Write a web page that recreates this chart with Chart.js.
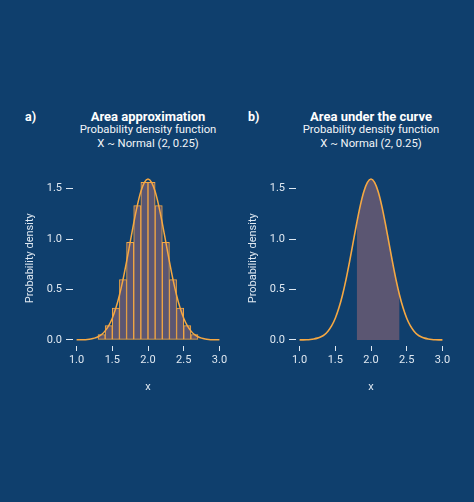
<!DOCTYPE html>
<html>
<head>
<meta charset="utf-8">
<script src="https://cdn.jsdelivr.net/npm/chart.js@4/dist/chart.umd.min.js"></script>
<style>
  html, body { margin: 0; padding: 0; }
  body { width: 474px; height: 502px; background: #0f3f6d; position: relative; overflow: hidden;
         font-family: Roboto, "Noto Sans", sans-serif; color: #ffffff; }
  .txt { position: absolute; white-space: nowrap; transform: translate(-50%, -50%); }
  .tag { position: absolute; font-weight: bold; font-size: 12.5px; transform: translateY(-50%); }
  .title { font-weight: bold; font-size: 13px; }
  .sub { font-size: 11.3px; color: #f2f5f8; }
  canvas { position: absolute; }
</style>
</head>
<body>
<div class="tag" style="left:25px; top:116px;">a)</div>
<div class="txt title" style="left:148px; top:116px;">Area approximation</div>
<div class="txt sub" style="left:148px; top:129px;">Probability density function</div>
<div class="txt sub" style="left:148px; top:143px;">X ~ Normal (2, 0.25)</div>

<div class="tag" style="left:248px; top:116px;">b)</div>
<div class="txt title" style="left:371px; top:116px;">Area under the curve</div>
<div class="txt sub" style="left:371px; top:129px;">Probability density function</div>
<div class="txt sub" style="left:371px; top:143px;">X ~ Normal (2, 0.25)</div>

<canvas id="chartA" width="237" height="240" style="left:0px; top:160px;"></canvas>
<canvas id="chartB" width="237" height="240" style="left:237px; top:160px;"></canvas>

<script>
// density curve
const curveX = [1.00, 1.05, 1.10, 1.15, 1.20, 1.25, 1.30, 1.35, 1.40, 1.45,
                1.50, 1.55, 1.60, 1.65, 1.70, 1.75, 1.80, 1.85, 1.90, 1.95,
                2.00, 2.05, 2.10, 2.15, 2.20, 2.25, 2.30, 2.35, 2.40, 2.45,
                2.50, 2.55, 2.60, 2.65, 2.70, 2.75, 2.80, 2.85, 2.90, 2.95, 3.00];
const curveY = [0.001, 0.001, 0.002, 0.005, 0.010, 0.018, 0.032, 0.054, 0.090, 0.142,
                0.216, 0.316, 0.444, 0.599, 0.777, 0.968, 1.159, 1.333, 1.473, 1.564,
                1.596, 1.564, 1.473, 1.333, 1.159, 0.968, 0.777, 0.599, 0.444, 0.316,
                0.216, 0.142, 0.090, 0.054, 0.032, 0.018, 0.010, 0.005, 0.002, 0.001, 0.001];

// histogram bins (width 0.1) for panel a
const binMids = [1.35, 1.45, 1.55, 1.65, 1.75, 1.85, 1.95, 2.05, 2.15, 2.25, 2.35, 2.45, 2.55, 2.65];
const binHeights = [0.054, 0.142, 0.316, 0.599, 0.968, 1.333, 1.564, 1.564, 1.333, 0.968, 0.599, 0.316, 0.142, 0.054];

// shaded interval for panel b
const shadeFrom = 1.8;
const shadeTo = 2.4;

const xTicks = [1.0, 1.5, 2.0, 2.5, 3.0];
const yTicks = [0.0, 0.5, 1.0, 1.5];

const orange = '#f5a843';
const fillCol = '#5b5672';
const textCol = '#dfe8f1';
const fontName = 'Roboto';

const curvePts = curveX.map((x, i) => ({ x: x, y: curveY[i] }));
const shadePts = curvePts.filter(p => p.x >= shadeFrom - 1e-9 && p.x <= shadeTo + 1e-9);

function makeScales(yWidth, yTitlePad) {
  return {
    x: {
      type: 'linear',
      min: 0.95,
      max: 3.05,
      offset: false,
      afterBuildTicks: s => { s.ticks = xTicks.map(v => ({ value: v })); },
      afterFit: s => { s.height = 54; },
      border: { display: false },
      grid: { offset: false, drawOnChartArea: false, drawTicks: true, tickLength: 5, color: textCol, lineWidth: 1 },
      ticks: { padding: 3, color: textCol, font: { family: fontName, size: 11 }, maxRotation: 0, autoSkip: false,
               callback: v => Number(v).toFixed(1) },
      title: { display: true, text: 'x', color: textCol, font: { family: fontName, size: 11 },
               padding: { top: 0, bottom: 6 } }
    },
    y: {
      type: 'linear',
      min: -0.06,
      max: 1.68,
      afterBuildTicks: s => { s.ticks = yTicks.map(v => ({ value: v })); },
      afterFit: s => { s.width = yWidth; },
      border: { display: false },
      grid: { drawOnChartArea: false, drawTicks: true, tickLength: 7, color: textCol, lineWidth: 1 },
      ticks: { padding: 4, color: textCol, font: { family: fontName, size: 11 },
               callback: v => Number(v).toFixed(1) },
      title: { display: true, text: 'Probability density', color: textCol, font: { family: fontName, size: 11 },
               padding: { top: yTitlePad, bottom: 0 } }
    }
  };
}

const commonPlugins = { legend: { display: false }, tooltip: { enabled: false } };

// Panel a: histogram + curve
new Chart(document.getElementById('chartA').getContext('2d'), {
  type: 'bar',
  data: {
    datasets: [
      {
        type: 'line',
        data: curvePts,
        borderColor: orange,
        borderWidth: 1.5,
        pointRadius: 0,
        cubicInterpolationMode: 'monotone',
        fill: false,
        order: 0
      },
      {
        type: 'bar',
        data: binMids.map((m, i) => ({ x: m, y: binHeights[i] })),
        backgroundColor: fillCol,
        borderColor: orange,
        borderWidth: 1,
        borderSkipped: false,
        barPercentage: 1,
        categoryPercentage: 1,
        order: 1
      }
    ]
  },
  options: {
    responsive: false,
    animation: false,
    devicePixelRatio: 1,
    layout: { padding: { top: 8, right: 14, left: 0, bottom: 0 } },
    plugins: commonPlugins,
    scales: makeScales(73, 24)
  }
});

// Panel b: shaded area + curve
new Chart(document.getElementById('chartB').getContext('2d'), {
  type: 'line',
  data: {
    datasets: [
      {
        data: curvePts,
        borderColor: orange,
        borderWidth: 1.6,
        pointRadius: 0,
        cubicInterpolationMode: 'monotone',
        fill: false,
        order: 0
      },
      {
        data: shadePts,
        borderWidth: 0,
        borderColor: 'rgba(0,0,0,0)',
        backgroundColor: fillCol,
        pointRadius: 0,
        cubicInterpolationMode: 'monotone',
        fill: 'origin',
        order: 1
      }
    ]
  },
  options: {
    responsive: false,
    animation: false,
    devicePixelRatio: 1,
    layout: { padding: { top: 8, right: 28, left: 0, bottom: 0 } },
    plugins: commonPlugins,
    scales: makeScales(59, 10)
  }
});
</script>
</body>
</html>
